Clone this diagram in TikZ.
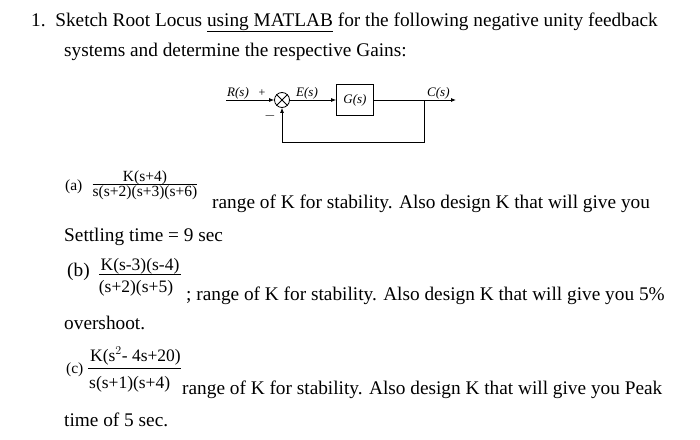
\documentclass[tikz,border=0pt]{standalone}
\usepackage{fontspec}
\setmainfont{Liberation Serif}
\usetikzlibrary{arrows.meta}
\begin{document}
\begin{tikzpicture}[x=1pt,y=-1pt,
  txt/.style={anchor=base west,inner sep=0pt,font=\fontsize{19.3}{22}\selectfont},
  sm/.style={inner sep=0pt,font=\fontsize{15.5}{18}\selectfont},
  fr/.style={inner sep=0pt,font=\fontsize{17.5}{20}\selectfont},
  lbl/.style={inner sep=0pt,font=\fontsize{13}{15}\selectfont\itshape},
  wire/.style={line width=0.8pt},
  arr/.style={wire,-{Latex[length=5pt,width=4pt]}}]
\useasboundingbox (0,0) rectangle (700,439);
\node[txt] (l1) at (31,26) {1.\ \ Sketch Root Locus \underline{using MATLAB} for the following negative unity feedback};
\node[txt] (l2) at (64,56) {systems and determine the respective Gains:};
% block diagram
\node[draw,circle,wire,minimum size=15pt,inner sep=0pt] (sum) at (282,100) {};
\draw[wire] (sum.north west) -- (sum.south east) (sum.north east) -- (sum.south west);
\node[draw,wire,minimum width=37pt,minimum height=31pt] (G) at (355,100) {};
\node[lbl] (Gl) at (G) {G(s)};
\coordinate (rin) at (226,100);
\coordinate (out) at (456,100);
\coordinate (br) at (424,100);
\coordinate (fb1) at (424,142);
\coordinate (fb2) at (282,142);
\draw[arr] (rin) -- (sum.west);
\draw[arr] (sum.east) -- (G.west);
\draw[arr] (G.east) -- (out);
\draw[wire] (br) -- (fb1) -- (fb2);
\draw[arr] (fb2) -- (sum.south);
\node[lbl,anchor=base west] (R) at (227,96) {R(s)};
\node[inner sep=0pt,font=\large] (plus) at (262,93) {+};
\node[inner sep=0pt,font=\Large] (minus) at (270,116) {$-$};
\node[lbl,anchor=base west] (E) at (296,96) {E(s)};
\node[lbl,anchor=base west] (C) at (427,96) {C(s)};
% (a)
\node[sm,anchor=base west] (a) at (65,190) {(a)};
\node[sm,anchor=base] (an) at (145,181) {K(s+4)};
\node[sm,anchor=base] (ad) at (145,196) {s(s+2)(s+3)(s+6)};
\draw[line width=0.6pt] (ad.west |- 0,184) -- (ad.east |- 0,184);
\node[txt] (ar) at (212,208) {range of K for stability. Also design K that will give you};
\node[txt] (st) at (64,241) {Settling time = 9 sec};
% (b)
\node[txt] (b) at (67,276) {(b)};
\node[fr,anchor=base] (bn) at (140,270) {K(s-3)(s-4)};
\node[fr,anchor=base] (bd) at (136,292) {(s+2)(s+5)};
\draw[line width=0.6pt] (99,274) -- (181,274);
\node[txt] (br2) at (186,300) {; range of K for stability. Also design K that will give you 5\%};
\node[txt] (ov) at (64,329) {overshoot.};
% (c)
\node[sm,anchor=base west] (c) at (66,373) {(c)};
\node[fr,anchor=base west] (cn) at (90,361) {K(s$^{2}$- 4s+20)};
\node[fr,anchor=base west] (cd) at (89,388) {s(s+1)(s+4)};
\draw[line width=0.6pt] (88,368) -- (181,368);
\node[txt] (cr) at (182,394) {range of K for stability. Also design K that will give you Peak};
\node[txt] (tm) at (64,426) {time of 5 sec.};
\end{tikzpicture}
\end{document}
